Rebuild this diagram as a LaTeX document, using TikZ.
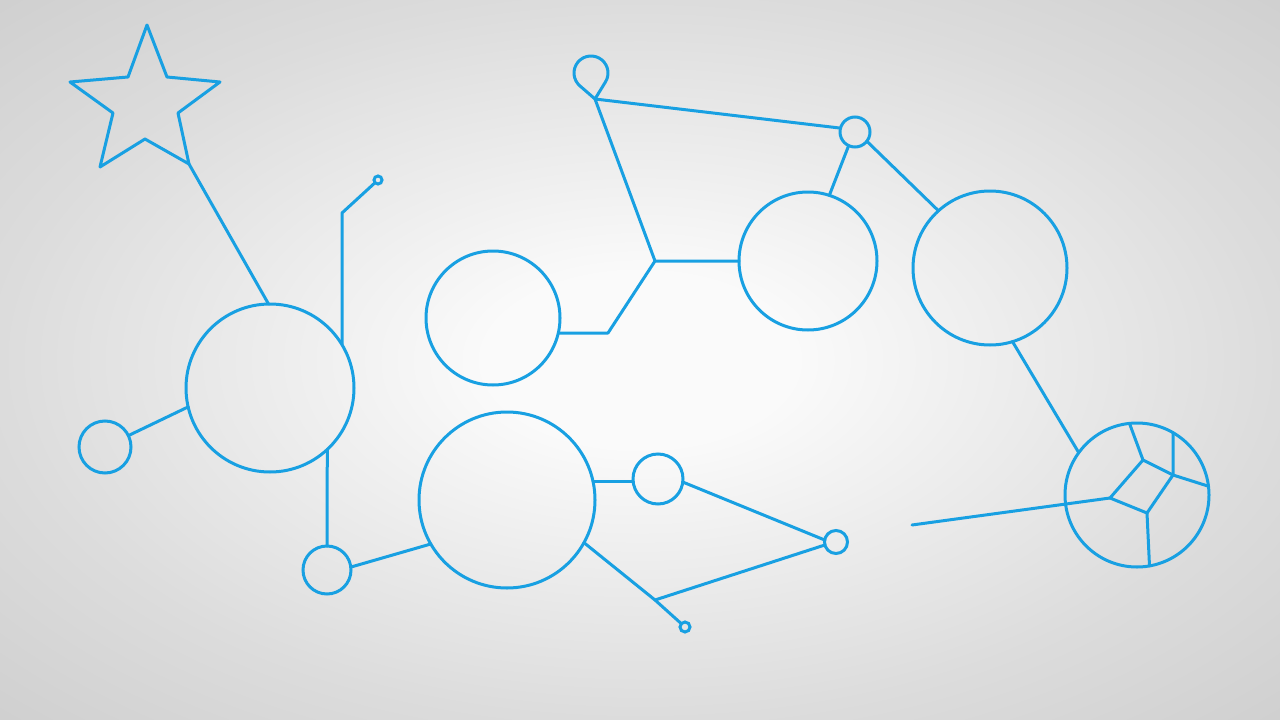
\documentclass[tikz,border=0pt]{standalone}
\usepackage{tikz}
\usetikzlibrary{calc}
\definecolor{netblue}{RGB}{24,160,226}
\definecolor{bgin}{RGB}{250,250,250}
\definecolor{bgmid}{RGB}{220,220,220}
\definecolor{bgout}{RGB}{207,207,207}
\pgfdeclareradialshading{bgshade}{\pgfpoint{0bp}{0bp}}{%
color(0bp)=(bgin); color(6bp)=(bgin); color(25bp)=(bgmid);
color(36bp)=(bgout); color(50bp)=(bgout)}

\begin{document}
\begin{tikzpicture}[
x=1pt,y=-1pt,
line width=3pt,
ring/.style={%
draw=netblue,
circle,
inner sep=0pt,
outer sep=0pt
},
link/.style={%
draw=netblue,
line cap=round,
line join=round
}
]
%% Background
\shade[shading=bgshade](0,0) rectangle (1280,720);
\useasboundingbox(0,0) rectangle (1280,720);
%% Star
\draw[link](147,25)--(167,77)--(220,82)--(178,113)--(189,164)--(145,139)
  --(100,167)--(113,113)--(70,82)--(128,77)--cycle;
\coordinate(starR)at(189,164);
%% Left group
\node[ring,minimum size=52pt]at(105,447)(L){};
\node[ring,minimum size=168pt]at(270,388)(A){};
\node[ring,minimum size=8pt]at(378,180)(a1){};
\node[ring,minimum size=48pt]at(327,570)(B){};
\coordinate(k1)at(342,213);
\draw[link](starR)--(A.91);
\draw[link](L.26)--(A.193);
\draw[link](A.31)--(k1)--(a1);
\draw[link](A.-47)--(B);
%% Lower group
\node[ring,minimum size=176pt]at(507,500)(C){};
\node[ring,minimum size=50pt]at(658,479)(D){};
\node[ring,minimum size=23pt]at(836,542)(E){};
\node[ring,minimum size=10pt]at(685,627)(c1){};
\coordinate(k2)at(655,600);
\draw[link](B.7)--(C.210);
\draw[link](C.12)--(C.12 -| D.west);
\draw[link](C.-29)--(k2)--(c1);
\draw[link](D.-7)--(E.170);
\draw[link](E.195)--(k2);
%% Upper group
\node[ring,minimum size=134pt]at(493,318)(F){};
\node[ring,minimum size=138pt]at(808,261)(G){};
\node[ring,minimum size=30pt]at(855,132)(H){};
\node[ring,minimum size=154pt]at(990,268)(I){};
\coordinate(k3)at(608,333);
\coordinate(k4)at(655,261);
\coordinate(pin)at(595,99);
\coordinate(pinC)at(591,73);
\draw[link](pin)--($(pinC)+(130.4:17)$) arc[start angle=130.4,end angle=392.8,radius=17]--cycle;
\draw[link](F.-13)--(k3)--(k4)--(G.west);
\draw[link](k4)--(pin)--(H.165);
\draw[link](H.245)--(G.72);
\draw[link](H.-38)--(I.132);
%% Ball
\node[ring,minimum size=144pt]at(1137,495)(S){};
\coordinate(p1)at(1143,460);
\coordinate(p2)at(1173,475);
\coordinate(p3)at(1147,513);
\coordinate(p4)at(1110,498);
\coordinate(k5)at(912,525);
\draw[link](I.-73)--(S.144);
\draw[link](p1)--(p2)--(p3)--(p4)--cycle;
\draw[link](p1)--(S.96);
\draw[link](p2)--(S.60);
\draw[link](p2)--(S.7);
\draw[link](p3)--(S.-80);
\draw[link](p4)--(k5);
\end{tikzpicture}
\end{document}
